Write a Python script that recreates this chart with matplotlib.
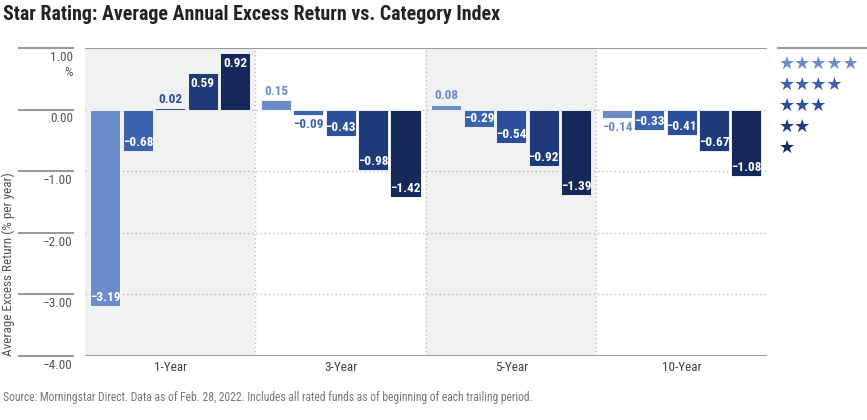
import numpy as np
import matplotlib
matplotlib.use("Agg")
import matplotlib.pyplot as plt
import matplotlib.transforms as mtransforms
from matplotlib import font_manager

# pick a narrow family if one is there
names = set(f.name for f in font_manager.fontManager.ttflist)
FONT = "DejaVu Sans"
for cand in ["Liberation Sans Narrow", "Roboto Condensed", "Roboto", "Liberation Sans"]:
    if cand in names:
        FONT = cand
        break
plt.rcParams['font.family'] = [FONT, 'DejaVu Sans']

periods = ["1-Year", "3-Year", "5-Year", "10-Year"]
ratings = ["5 star", "4 star", "3 star", "2 star", "1 star"]
# rows = periods, cols = ratings (5 star first)
ret_1y = [-3.19, -0.68, 0.02, 0.59, 0.92]
ret_3y = [0.15, -0.09, -0.43, -0.98, -1.42]
ret_5y = [0.08, -0.29, -0.54, -0.92, -1.39]
ret_10y = [-0.14, -0.33, -0.41, -0.67, -1.08]
values = [ret_1y, ret_3y, ret_5y, ret_10y]

yticks = [1.0, 0.0, -1.0, -2.0, -3.0, -4.0]
colors = ["#6a8cc8", "#3b63b0", "#2b4f9b", "#1e3a79", "#14295a"]
GRAY = "#9a9a9a"

fig = plt.figure(figsize=(8.67, 4.2), dpi=100)
ax = fig.add_axes([0.098, 0.1524, 0.7866, 0.7333])
ax.set_xlim(0, 4)
ax.set_ylim(-4, 1)
for s in ax.spines.values():
    s.set_visible(False)
ax.set_xticks([])
ax.set_yticks([])

# shaded groups
for i in (0, 2):
    ax.axvspan(i, i + 1, color="#f1f1f1", zorder=0, lw=0)
for i in (1, 2, 3):
    ax.axvline(i, color="#bdbdbd", ls=(0, (1, 2)), lw=1, zorder=1)
for y in yticks[1:-1]:
    ax.axhline(y, color="#bdbdbd", ls=(0, (1, 2)), lw=1, zorder=1)
ax.axhline(1.0, color=GRAY, lw=1.5, zorder=3)
ax.axhline(-4.0, color=GRAY, lw=1.5, zorder=3)

# y tick lines and labels outside the axes
trans = mtransforms.blended_transform_factory(ax.transAxes, ax.transData)
for y in yticks:
    ax.plot([-0.097, -0.0176], [y, y], color=GRAY, lw=1.5, transform=trans, clip_on=False)
    lab = "%.2f" % y
    lab = lab.replace("-", "\u2212")
    if y == 1.0:
        lab = lab + "\n%"
    ax.text(-0.0176, y, lab, transform=trans + mtransforms.ScaledTranslation(0, -2 / 72, fig.dpi_scale_trans),
            ha="right", va="top", fontsize=9.5, color="#555555", linespacing=1.2)

step = 0.19
width = 0.176
for i, vals in enumerate(values):
    xs = i + 0.5 + (np.arange(5) - 2) * step
    ax.bar(xs, vals, width=width, color=colors, edgecolor="white", lw=0.6, zorder=2)
    for j, v in enumerate(vals):
        txt = ("%.2f" % v).replace("-", "\u2212")
        if abs(v) >= 0.2:
            dy = 1.5 if v < 0 else -3
            va = "bottom" if v < 0 else "top"
            col = "white"
        else:
            dy = -2 if v < 0 else 2
            va = "top" if v < 0 else "bottom"
            col = colors[j]
        ax.annotate(txt, (xs[j], v), xytext=(0, dy), textcoords="offset points",
                    ha="center", va=va, fontsize=9.5, fontweight="bold", color=col, zorder=4)
    ax.text(i + 0.5, -4.08, periods[i], ha="center", va="top", fontsize=9.5, color="#444444")

ax.text(-0.112, 0.0, "Average Excess Return (% per year)", transform=ax.transAxes,
        rotation=90, ha="center", va="bottom", fontsize=9.5, color="#555555")

# star legend
fig.add_artist(plt.Line2D([778 / 867, 1.0], [1 - 48 / 420] * 2, color=GRAY, lw=1.5))
for k in range(5):
    n = 5 - k
    fig.text(779 / 867, 1 - (64 + k * 21) / 420, "\u2605" * n, family="DejaVu Sans",
             fontsize=13, color=colors[k], va="center", ha="left")

fig.text(0.004, 1 - 14 / 420, "Star Rating: Average Annual Excess Return vs. Category Index",
         fontsize=14.3, fontweight="bold", color="#222222", va="center", ha="left")
fig.text(0.004, 1 - 398 / 420,
         "Source: Morningstar Direct. Data as of Feb. 28, 2022. Includes all rated funds as of beginning of each trailing period.",
         fontsize=8.4, color="#777777", va="center", ha="left")

fig.savefig("out.png", dpi=100)
